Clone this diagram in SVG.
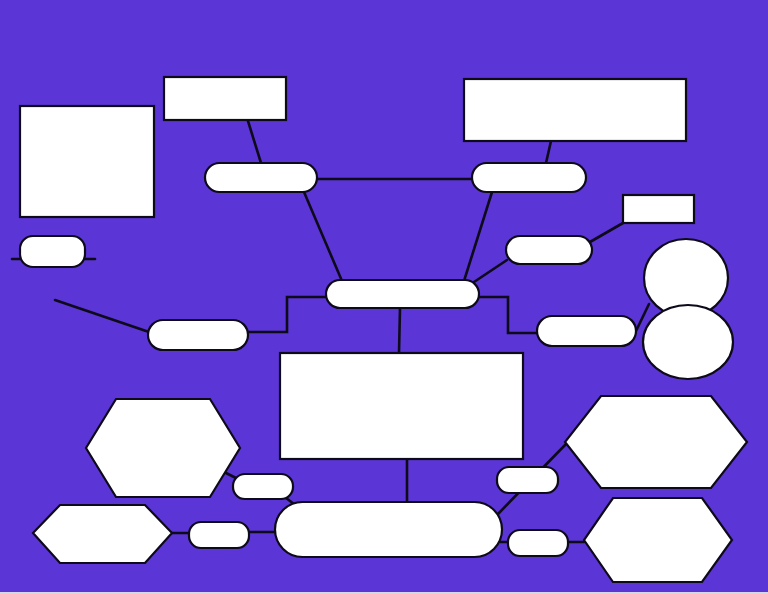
<svg xmlns="http://www.w3.org/2000/svg" width="768" height="594" viewBox="0 0 768 594">
<style>
.bg{fill:#5b35d5}
.n{fill:#ffffff;stroke:#0d0a1a;stroke-width:2.2}
.c{fill:none;stroke:#0d0a1a;stroke-width:2.6;stroke-linecap:round;stroke-linejoin:miter}
</style>
<rect class="bg" x="0" y="0" width="768" height="594"/>
<rect x="0" y="592" width="768" height="2" fill="#d8d6e0"/>
<g id="connectors">
<line class="c" x1="248" y1="121" x2="261" y2="163"/>
<line class="c" x1="317" y1="179" x2="472" y2="179"/>
<line class="c" x1="304" y1="192" x2="342" y2="281"/>
<line class="c" x1="12" y1="259" x2="95" y2="259"/>
<line class="c" x1="55" y1="300" x2="149" y2="332"/>
<polyline class="c" points="248,332 287,332 287,297 327,297"/>
<line class="c" x1="551" y1="141" x2="546" y2="163"/>
<line class="c" x1="492" y1="192" x2="464" y2="281"/>
<line class="c" x1="623" y1="223" x2="590" y2="242"/>
<line class="c" x1="507" y1="260" x2="471" y2="284"/>
<polyline class="c" points="479,297 508,297 508,333 537,333"/>
<line class="c" x1="649" y1="304" x2="636" y2="331"/>
<line class="c" x1="400" y1="308" x2="399" y2="353"/>
<line class="c" x1="407" y1="459" x2="407" y2="502"/>
<line class="c" x1="226" y1="473" x2="236" y2="478"/>
<line class="c" x1="286" y1="498" x2="294" y2="504"/>
<line class="c" x1="172" y1="533" x2="190" y2="533"/>
<line class="c" x1="249" y1="532" x2="275" y2="532"/>
<line class="c" x1="497" y1="515" x2="567" y2="443"/>
<line class="c" x1="500" y1="542" x2="584" y2="542"/>
</g>
<g id="rect-left"><rect class="n" x="20" y="106" width="134" height="111"/></g>
<g id="rect-top-left"><rect class="n" x="164" y="77" width="122" height="43"/></g>
<g id="rect-top-right"><rect class="n" x="464" y="79" width="222" height="62"/></g>
<g id="rect-small-right"><rect class="n" x="623" y="195" width="71" height="28"/></g>
<g id="rect-center"><rect class="n" x="280" y="353" width="243" height="106"/></g>
<g id="pill-top-left"><rect class="n" x="205" y="163" width="112" height="29" rx="14.5"/></g>
<g id="pill-top-right"><rect class="n" x="472" y="163" width="114" height="29" rx="14.5"/></g>
<g id="pill-small-left"><rect class="n" x="20" y="236" width="65" height="31" rx="13"/></g>
<g id="pill-left"><rect class="n" x="148" y="320" width="100" height="30" rx="15"/></g>
<g id="pill-center"><rect class="n" x="326" y="280" width="153" height="28" rx="14"/></g>
<g id="pill-right-upper"><rect class="n" x="506" y="236" width="86" height="28" rx="14"/></g>
<g id="pill-right-lower"><rect class="n" x="537" y="316" width="99" height="30" rx="15"/></g>
<g id="circle-top"><ellipse class="n" cx="686" cy="278" rx="42" ry="39"/></g>
<g id="circle-bottom"><ellipse class="n" cx="688" cy="342" rx="45" ry="37"/></g>
<g id="hex-left-upper"><polygon class="n" points="116,399 210,399 240,448 210,497 116,497 86,448"/></g>
<g id="hex-left-lower"><polygon class="n" points="60,505 145,505 172,533 145,563 60,563 33,533"/></g>
<g id="hex-right-upper"><polygon class="n" points="601,396 711,396 747,442 711,488 601,488 565,442"/></g>
<g id="hex-right-lower"><polygon class="n" points="613,498 702,498 732,540 702,582 613,582 584,540"/></g>
<g id="pill-bl-upper"><rect class="n" x="233" y="474" width="60" height="25" rx="12"/></g>
<g id="pill-bl-lower"><rect class="n" x="189" y="522" width="60" height="26" rx="12"/></g>
<g id="pill-br-upper"><rect class="n" x="497" y="467" width="61" height="26" rx="12"/></g>
<g id="pill-br-lower"><rect class="n" x="508" y="530" width="60" height="26" rx="12"/></g>
<g id="pill-bottom-center"><rect class="n" x="275" y="502" width="227" height="55" rx="27.5"/></g>
</svg>
